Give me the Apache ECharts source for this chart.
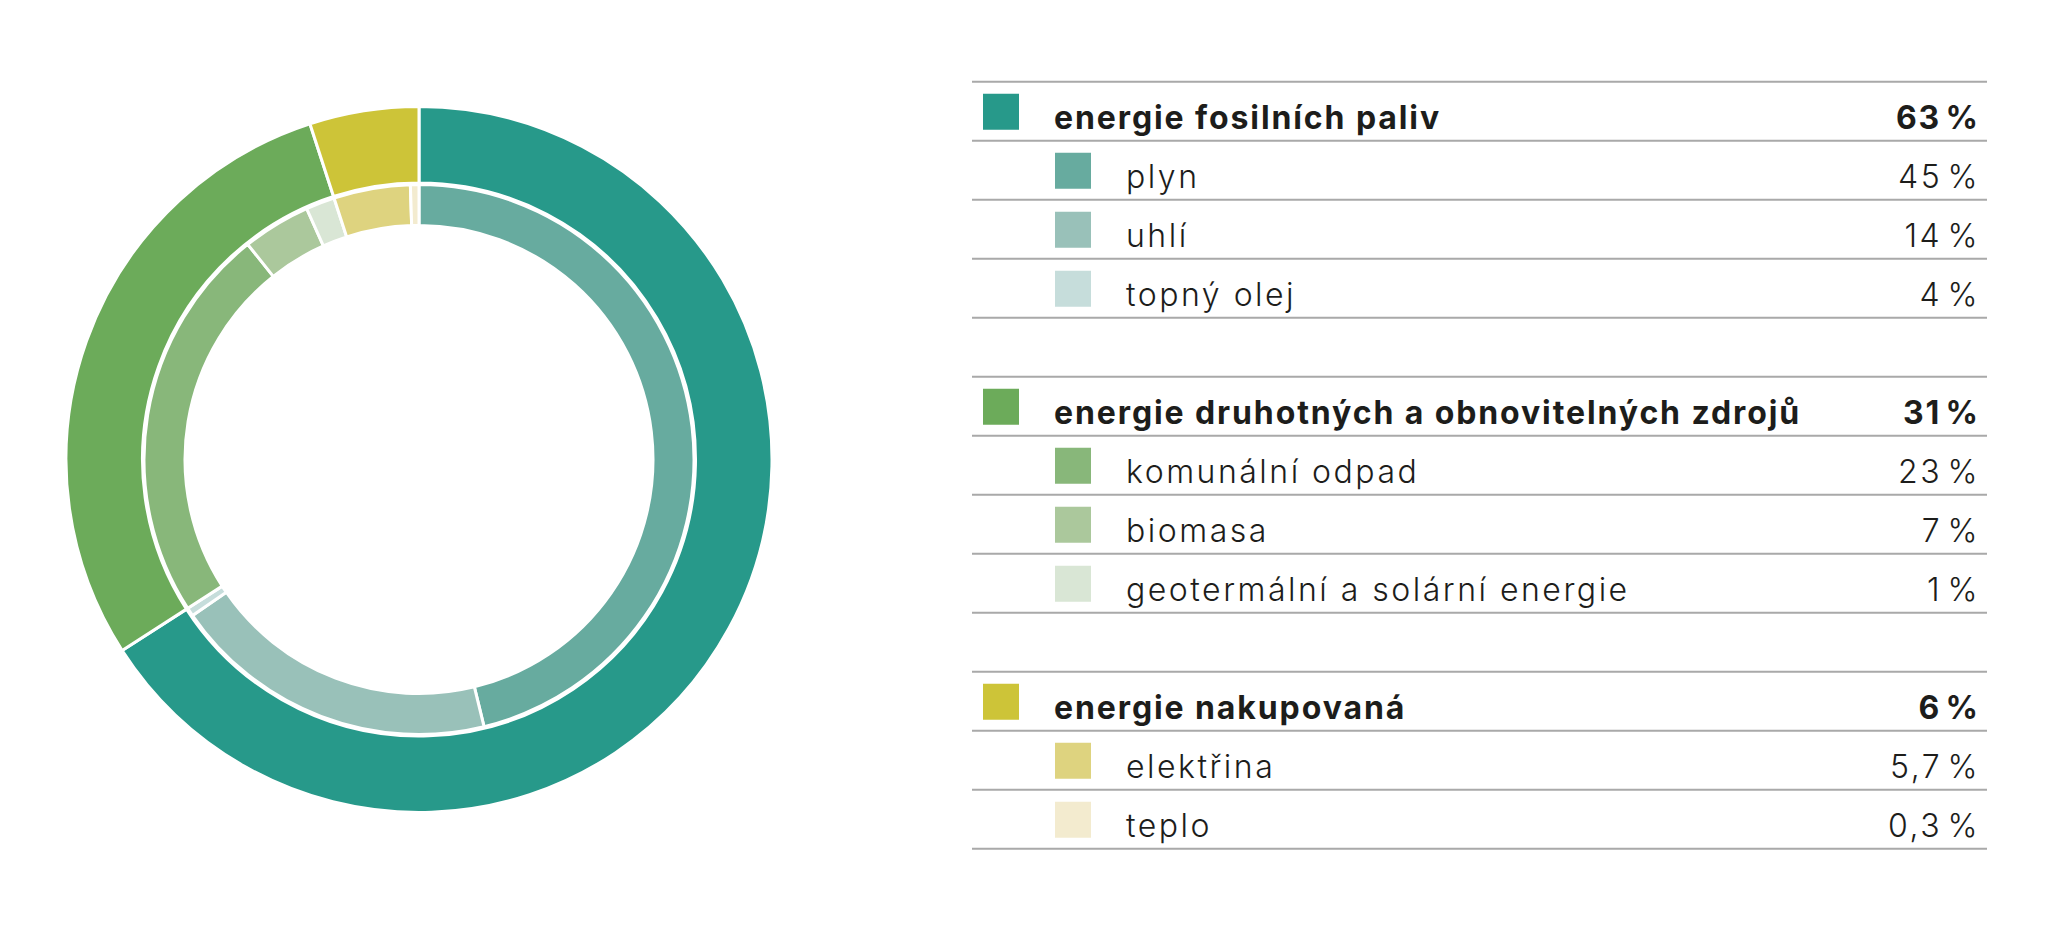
<!DOCTYPE html>
<html>
<head>
<meta charset="utf-8">
<script src="https://cdn.jsdelivr.net/npm/echarts@6/dist/echarts.min.js"></script>
<style>
html, body { margin: 0; padding: 0; background: #fff; }
#chart { width: 2048px; height: 934px; }
/* the original uses a wide geometric face; widen Inter a little */
#chart svg text { letter-spacing: 2.5px; }
#chart svg text[style*="700"] { letter-spacing: 1.9px; }
</style>
</head>
<body>
<div id="chart"></div>
<script>
// groups (outer ring)
var groupNames = ['energie fosilních paliv', 'energie druhotných a obnovitelných zdrojů', 'energie nakupovaná'];
var groupLabels = ['63\u200a%', '31\u200a%', '6\u200a%'];
var groupColors = ['#27998a', '#6cab5a', '#cdc438'];

// sub items (inner ring)
var subNames = [
    ['plyn', 'uhlí', 'topný olej'],
    ['komunální odpad', 'biomasa', 'geotermální a solární energie'],
    ['elektřina', 'teplo']
];
var subLabels = [
    ['45\u200a%', '14\u200a%', '4\u200a%'],
    ['23\u200a%', '7\u200a%', '1\u200a%'],
    ['5,7\u200a%', '0,3\u200a%']
];
var subColors = [
    ['#67ab9f', '#99c1b9', '#c6dddb'],
    ['#88b77a', '#abc89c', '#d9e6d5'],
    ['#ded37f', '#f3ebcf']
];

// slice sizes as they are drawn in the ring (read off the picture, not quite the printed %)
var outerRing = [65.9, 29.1, 5.0];
var innerRing = [
    [46.2, 19.2, 0.5],
    [23.4, 4.0, 1.7],
    [4.5, 0.5]
];


var dom = document.getElementById("chart");
var myChart = echarts.init(dom, null, { renderer: 'svg' });
var option = null;

var outerData = groupNames.map(function (n, i) {
    return { name: n, value: outerRing[i], itemStyle: { color: groupColors[i] } };
});
var innerData = [];
subNames.forEach(function (list, g) {
    list.forEach(function (n, j) {
        innerData.push({ name: n, value: innerRing[g][j], itemStyle: { color: subColors[g][j] } });
    });
});

// table on the right
var rowTop = 81.7, pitch = 59;
var lineX1 = 972, lineX2 = 1987, valueX = 1980;
var elements = [];
var fontBold = '700 32px Inter';
var fontLight = '300 32px Inter';

function addLine(y) {
    elements.push({
        type: 'line',
        shape: { x1: lineX1, y1: y, x2: lineX2, y2: y },
        style: { stroke: '#a9a9a9', lineWidth: 2 },
        silent: true
    });
}
function addRow(y, sx, color, name, label, font) {
    elements.push({
        type: 'rect',
        shape: { x: sx, y: y + 12, width: 36, height: 36 },
        style: { fill: color },
        silent: true
    });
    elements.push({
        type: 'text',
        style: { text: name, x: sx + 71, y: y + 36, font: font, fill: '#1d1d1b', textAlign: 'left', textVerticalAlign: 'middle' },
        silent: true
    });
    elements.push({
        type: 'text',
        style: { text: label, x: valueX, y: y + 36, font: font, fill: '#1d1d1b', textAlign: 'right', textVerticalAlign: 'middle' },
        silent: true
    });
}

groupNames.forEach(function (n, g) {
    var r0 = g * 5;
    var y0 = rowTop + r0 * pitch;
    addLine(y0);
    addRow(y0, 983, groupColors[g], n, groupLabels[g], fontBold);
    addLine(y0 + pitch);
    subNames[g].forEach(function (s, j) {
        var y = y0 + (j + 1) * pitch;
        addRow(y, 1055, subColors[g][j], s, subLabels[g][j], fontLight);
        addLine(y + pitch);
    });
});

option = {
    backgroundColor: '#fff',
    animation: false,
    graphic: { elements: elements },
    series: [{
        name: 'skupiny',
        type: 'pie',
        center: [419, 459.5],
        radius: [276.5, 353],
        startAngle: 90,
        silent: true,
        label: { show: false },
        labelLine: { show: false },
        itemStyle: { borderColor: '#fff', borderWidth: 3 },
        data: outerData
    }, {
        name: 'zdroje',
        type: 'pie',
        center: [419, 459.5],
        radius: [234, 275],
        startAngle: 90,
        silent: true,
        label: { show: false },
        labelLine: { show: false },
        itemStyle: { borderColor: '#fff', borderWidth: 3 },
        data: innerData
    }]
};
if (option && typeof option === "object") {
    myChart.setOption(option, true);
}
</script>
</body>
</html>
